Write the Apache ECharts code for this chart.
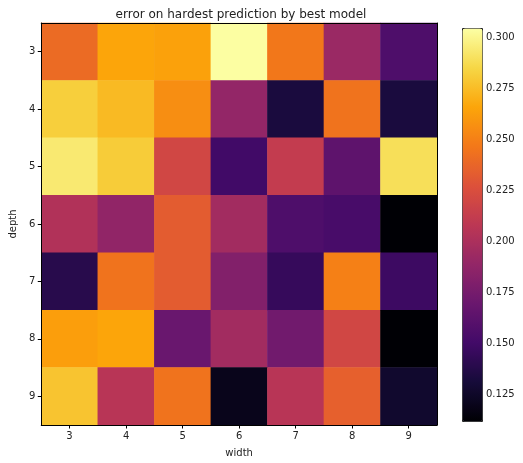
<!DOCTYPE html>
<html>
<head>
<meta charset="utf-8">
<script src="https://cdn.jsdelivr.net/npm/echarts@6/dist/echarts.min.js"></script>
<style>
  html, body { margin: 0; padding: 0; background: #fff; }
  #chart { width: 523px; height: 463px; }
</style>
</head>
<body>
<div id="chart"></div>
<script>
// categories
let widths = ['3', '4', '5', '6', '7', '8', '9'];
let depths = ['3', '4', '5', '6', '7', '8', '9'];

// error per depth row (one value per width)
let d3 = [0.240, 0.266, 0.264, 0.304, 0.246, 0.192, 0.156];
let d4 = [0.282, 0.274, 0.256, 0.189, 0.133, 0.244, 0.133];
let d5 = [0.294, 0.281, 0.220, 0.150, 0.212, 0.164, 0.289];
let d6 = [0.203, 0.188, 0.233, 0.196, 0.156, 0.153, 0.112];
let d7 = [0.139, 0.244, 0.233, 0.181, 0.145, 0.250, 0.148];
let d8 = [0.263, 0.266, 0.169, 0.196, 0.173, 0.220, 0.112];
let d9 = [0.278, 0.206, 0.244, 0.120, 0.206, 0.235, 0.127];
let rows = [d3, d4, d5, d6, d7, d8, d9];

// colorbar range + ticks
let cMin = 0.1118, cMax = 0.3044;
let cbarTicks = [0.125, 0.150, 0.175, 0.200, 0.225, 0.250, 0.275, 0.300];

let inferno = ['#000004', '#160b39', '#420a68', '#6a176e', '#932667', '#bc3754',
               '#dd513a', '#f37819', '#fca50a', '#f6d746', '#fcffa4'];

let cells = [];
rows.forEach((r, i) => r.forEach((v, j) => cells.push([j, i, v])));

let txt = '#222';
let font = 'DejaVu Sans';
let frame = { show: true, lineStyle: { color: '#000', width: 1 } };

// plain frame axis (top / right edges of the heatmap)
let edge = (pos) => ({
  type: 'category', data: pos === 'top' ? widths : depths, gridIndex: 0, position: pos,
  inverse: pos === 'right', z: 10,
  axisLine: frame, axisTick: { show: false }, axisLabel: { show: false },
  splitLine: { show: false }
});

let option = {
  animation: false,
  textStyle: { fontFamily: font },
  title: {
    text: 'error on hardest prediction by best model',
    left: 236, top: 4, textAlign: 'center',
    textStyle: { fontSize: 12, fontWeight: 'normal', color: txt, fontFamily: font }
  },
  grid: [
    { left: 35, top: 23, width: 402, height: 402, show: false },
    { left: 462, top: 28, width: 20, height: 393, show: false }
  ],
  xAxis: [
    {
      type: 'category', data: widths, gridIndex: 0, position: 'bottom', z: 10,
      name: 'width', nameLocation: 'middle', nameGap: 23,
      nameTextStyle: { fontSize: 10, color: txt },
      axisLine: frame,
      axisTick: { show: true, alignWithLabel: true, length: 3.5, lineStyle: { color: '#000' } },
      axisLabel: { fontSize: 10, color: txt, margin: 6 },
      splitArea: { show: false }
    },
    { type: 'value', gridIndex: 1, show: false, min: 0, max: 1 },
    edge('top')
  ],
  yAxis: [
    {
      type: 'category', data: depths, gridIndex: 0, inverse: true, z: 10,
      name: 'depth', nameLocation: 'middle', nameGap: 22, nameRotate: 90,
      nameTextStyle: { fontSize: 10, color: txt },
      axisLine: frame,
      axisTick: { show: true, alignWithLabel: true, length: 3.5, lineStyle: { color: '#000' } },
      axisLabel: { fontSize: 10, color: txt, margin: 6 },
      splitArea: { show: false }
    },
    {
      type: 'value', gridIndex: 1, position: 'right', min: cMin, max: cMax,
      axisLine: { show: false },
      splitLine: { show: false },
      axisTick: { show: true, length: 3.5, customValues: cbarTicks, lineStyle: { color: '#000' } },
      axisLabel: { fontSize: 10, color: txt, margin: 4, customValues: cbarTicks, formatter: v => v.toFixed(3) }
    },
    edge('right')
  ],
  visualMap: {
    type: 'continuous',
    min: cMin, max: cMax,
    calculable: false,
    seriesIndex: 0,
    orient: 'vertical',
    left: 462, top: 28,
    itemWidth: 20, itemHeight: 393,
    padding: 0,
    text: null,
    showLabel: false,
    borderColor: '#222', borderWidth: 1,
    inRange: { color: inferno }
  },
  series: [
    {
      type: 'heatmap',
      xAxisIndex: 0, yAxisIndex: 0,
      data: cells,
      itemStyle: { borderWidth: 0 },
      emphasis: { disabled: true }
    }
  ]
};

let chart = echarts.init(document.getElementById('chart'), null, { renderer: 'canvas' });
chart.setOption(option);
</script>
</body>
</html>
